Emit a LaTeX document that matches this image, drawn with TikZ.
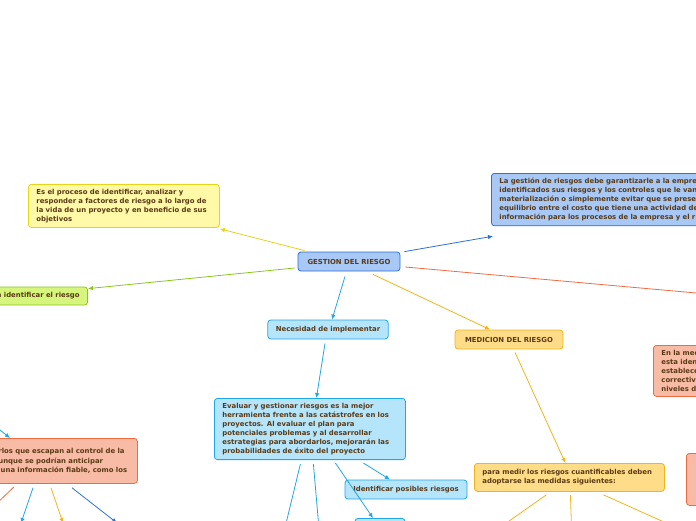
\documentclass[tikz,border=0pt]{standalone}
\usepackage{fontspec}
\newfontfamily\mapfont{DejaVu Sans}
\usetikzlibrary{arrows.meta,positioning,calc}
\definecolor{MapInk}{HTML}{5A3A16}
\definecolor{RootBg}{HTML}{A8C8F5}
\definecolor{RootRule}{HTML}{2E6FD8}
\definecolor{SunBg}{HTML}{FFF9A8}
\definecolor{SunRule}{HTML}{E8D21A}
\definecolor{LimeBg}{HTML}{D5F57C}
\definecolor{LimeRule}{HTML}{8CC51E}
\definecolor{SkyBg}{HTML}{B5E5FA}
\definecolor{SkyRule}{HTML}{22A6E6}
\definecolor{GoldBg}{HTML}{FFDC88}
\definecolor{GoldRule}{HTML}{F2B41C}
\definecolor{CoralBg}{HTML}{F8BBA6}
\definecolor{CoralRule}{HTML}{EE6C44}

\begin{document}
\begin{tikzpicture}[x=1pt, y=-1pt,
  topic/.style={rounded corners=3pt, line width=0.8pt, align=left,
                inner xsep=8pt, inner ysep=4.5pt,
                font=\mapfont\bfseries\fontsize{6.9}{9.1}\selectfont\color{MapInk}},
  small/.style={topic, align=center, minimum height=19pt, inner ysep=2pt},
  link/.style={line width=0.8pt, -{Latex[length=5pt,width=4.5pt]}},
  line/.style={line width=0.8pt}]
  \useasboundingbox (0,0) rectangle (696,520);
  \clip (0,0) rectangle (696,520);

  \node[small, fill=RootBg, draw=RootRule, minimum width=102pt] (root) at (349,261.5) {GESTION DEL RIESGO};
  \node[topic, fill=SunBg, draw=SunRule, text width=175pt, anchor=north west] (defn) at (28,184)
    {Es el proceso de identificar, analizar y\\responder a factores de riesgo a lo largo de\\la vida de un proyecto y en beneficio de sus\\objetivos};
  \node[topic, fill=RootBg, draw=RootRule, text width=280pt, anchor=north west] (info) at (491,173)
    {La gestión de riesgos debe garantizarle a la empresa\\identificados sus riesgos y los controles que le van\\materialización o simplemente evitar que se presente\\equilibrio entre el costo que tiene una actividad de\\información para los procesos de la empresa y el r};
  \node[small, fill=LimeBg, draw=LimeRule, text width=120pt, align=right, minimum height=18pt,
        anchor=east] (spot) at (88,296) {a identificar el riesgo};
  \node[small, fill=SkyBg, draw=SkyRule, minimum width=120pt] (need) at (328,329.5) {Necesidad de implementar};
  \node[small, fill=GoldBg, draw=GoldRule, minimum width=108pt] (meas) at (509,339.5) {MEDICION DEL RIESGO};
  \node[topic, fill=SkyBg, draw=SkyRule, text width=175pt, anchor=north west] (eval) at (214,398)
    {Evaluar y gestionar riesgos es la mejor\\herramienta frente a las catástrofes en los\\proyectos. Al evaluar el plan para\\potenciales problemas y al desarrollar\\estrategias para abordarlos, mejorarán las\\probabilidades de éxito del proyecto};
  \node[topic, fill=CoralBg, draw=CoralRule, text width=131pt, minimum height=45pt,
        anchor=north west] (ctrl) at (-10,438)
    {rlos que escapan al control de la\\unque se podrían anticipar\\\ una información fiable, como los};
  \node[small, fill=SkyBg, draw=SkyRule, minimum width=122pt] (ident) at (406,489.5) {Identificar posibles riesgos};
  \node[small, fill=SkyBg, draw=SkyRule, minimum width=50pt, anchor=north] (next) at (380,518) {};
  \node[topic, fill=GoldBg, draw=GoldRule, text width=174pt, minimum height=28pt, anchor=north west] (quant) at (474,463)
    {para medir los riesgos cuantificables deben\\adoptarse las medidas siguientes:};
  \node[topic, fill=CoralBg, draw=CoralRule, text width=120pt, anchor=north west] (corr) at (653,345)
    {En la medición\\esta identificación\\establece\\correctivas\\niveles de};
  \node[topic, fill=CoralBg, draw=CoralRule, minimum width=60pt, minimum height=52pt, anchor=north west] (edge) at (686,453) {};

  \coordinate (offR) at (730,296);
  \coordinate (inL) at (-10,422);
  \coordinate (e1) at (282,540);
  \coordinate (e2) at (320,540);
  \coordinate (q1) at (482,540);
  \coordinate (q2) at (572,540);
  \coordinate (q3) at (704,540);
  \coordinate (c1) at (-10,510);
  \coordinate (c2) at (21,523);
  \coordinate (c3) at (63,523);
  \coordinate (c4) at (117,523);

  \draw[link, SunRule] ([xshift=7pt,yshift=1pt]root.north west) -- ([yshift=-1pt]defn.south east);
  \draw[link, RootRule] ([xshift=4pt]root.north east) -- ([xshift=2pt,yshift=-10pt]info.south west);
  \draw[link, LimeRule] ([xshift=-3pt,yshift=-6.5pt]root.west) -- ([yshift=-2pt]spot.north east);
  \draw[line, CoralRule] ([xshift=5pt,yshift=-5.5pt]root.east) -- (offR);
  \draw[link, SkyRule] ([xshift=-4pt,yshift=-5pt]root.south) -- ([xshift=4pt]need.north);
  \draw[link, GoldRule] ([xshift=24pt,yshift=-3pt]root.south) -- ([xshift=-19pt]meas.north);
  \draw[link, SkyRule] ([xshift=-3pt,yshift=-4pt]need.south) -- ([xshift=6.5pt]eval.north);
  \draw[link, GoldRule] ([xshift=6pt,yshift=-3pt]meas.south) -- ([xshift=-4pt]quant.north);
  \draw[link, SkyRule] ([xshift=53.5pt,yshift=-3pt]eval.south) -- ([xshift=-16pt]ident.north);
  \draw[link, SkyRule] ([xshift=25.5pt,yshift=-3pt]eval.south) -- ([xshift=-7pt]next.north);
  \draw[line, SkyRule] ([xshift=-9.5pt,yshift=-4pt]eval.south) -- (e1);
  \draw[line, SkyRule] ([xshift=3.5pt,yshift=-4pt]eval.south) -- (e2);
  \draw[line, GoldRule] ([xshift=-23pt,yshift=-3pt]quant.south) -- (q1);
  \draw[line, GoldRule] ([xshift=1pt,yshift=-3pt]quant.south) -- (q2);
  \draw[line, GoldRule] ([xshift=34pt,yshift=-3pt]quant.south) -- (q3);
  \draw[link, SkyRule] (inL) -- ([xshift=20pt]ctrl.north west);
  \draw[line, CoralRule] ([xshift=24pt,yshift=-3pt]ctrl.south west) -- (c1);
  \draw[link, SkyRule] ([xshift=43pt,yshift=-4pt]ctrl.south west) -- (c2);
  \draw[link, GoldRule] ([xshift=61pt,yshift=-4pt]ctrl.south west) -- (c3);
  \draw[link, RootRule] ([xshift=82pt,yshift=-4pt]ctrl.south west) -- (c4);
\end{tikzpicture}
\end{document}
